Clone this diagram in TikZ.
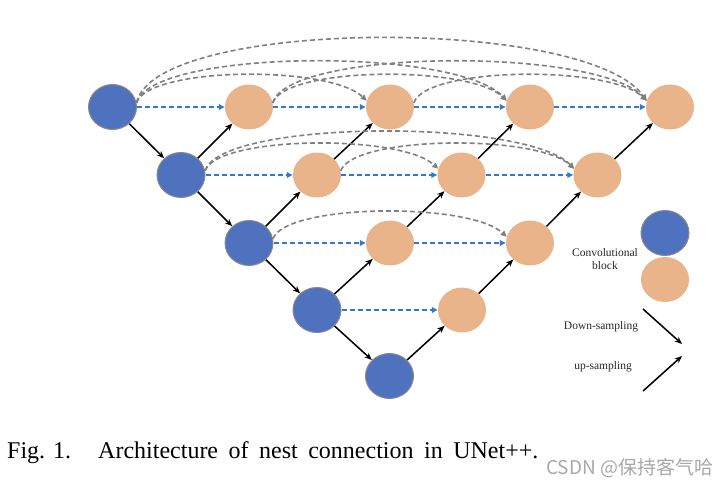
\documentclass[tikz,border=0pt]{standalone}
\usepackage{fontspec}
\setmainfont{Liberation Serif}
\newfontfamily\cjk{Noto Sans CJK SC}
\usetikzlibrary{arrows.meta,shapes.geometric}
\definecolor{encblue}{HTML}{4F72BE}
\definecolor{ringgray}{HTML}{8A8A8A}
\definecolor{decorange}{HTML}{E9B489}
\definecolor{skipblue}{HTML}{3478CC}
\definecolor{arcgray}{HTML}{808080}
\definecolor{markgray}{HTML}{A8A8A8}
\begin{document}
\begin{tikzpicture}[x=1pt,y=-1pt,
  enc/.style={ellipse,fill=encblue,draw=ringgray,line width=1pt,minimum width=48pt,minimum height=45pt,inner sep=0pt},
  dec/.style={ellipse,fill=decorange,minimum width=48pt,minimum height=45pt,inner sep=0pt},
  samp/.style={black,line width=1.5pt,-{Stealth[length=7.5pt,width=6pt]}},
  flatskip/.style={skipblue,line width=1.9pt,dash pattern=on 5pt off 3pt,-{Triangle[length=6pt,width=5.5pt]}},
  arcskip/.style={arcgray,line width=1.6pt,dash pattern=on 5pt off 3pt,-{Triangle[length=6pt,width=5.5pt]}},
  legtext/.style={font=\fontsize{11.5}{13.5}\selectfont,text=black!85,align=center,inner sep=0pt}
]
\useasboundingbox (0,0) rectangle (728,488);

% nodes
\node[enc] (X00) at (112.5,107) {};
\node[dec] (X01) at (249,107) {};
\node[dec] (X02) at (390,107) {};
\node[dec] (X03) at (530,107) {};
\node[dec] (X04) at (670,107) {};
\node[enc] (X10) at (181,175) {};
\node[dec] (X11) at (317,175) {};
\node[dec] (X12) at (461.5,175) {};
\node[dec] (X13) at (597.5,175) {};
\node[enc] (X20) at (249,243) {};
\node[dec] (X21) at (390,243) {};
\node[dec] (X22) at (530,243) {};
\node[enc] (X30) at (317,310) {};
\node[dec] (X31) at (462,310) {};
\node[enc] (X40) at (389.5,376) {};

% down-sampling
\draw[samp] (X00) -- (X10);
\draw[samp] (X10) -- (X20);
\draw[samp] (X20) -- (X30);
\draw[samp] (X30) -- (X40);
% up-sampling
\draw[samp] (X10) -- (X01);
\draw[samp] (X20) -- (X11);
\draw[samp] (X11) -- (X02);
\draw[samp] (X30) -- (X21);
\draw[samp] (X21) -- (X12);
\draw[samp] (X12) -- (X03);
\draw[samp] (X40) -- (X31);
\draw[samp] (X31) -- (X22);
\draw[samp] (X22) -- (X13);
\draw[samp] (X13) -- (X04);

% straight skip connections
\draw[flatskip] (X00) -- (X01);
\draw[flatskip] (X01) -- (X02);
\draw[flatskip] (X02) -- (X03);
\draw[flatskip] (X03) -- (X04);
\draw[flatskip] (X10) -- (X11);
\draw[flatskip] (X11) -- (X12);
\draw[flatskip] (X12) -- (X13);
\draw[flatskip] (X20) -- (X21);
\draw[flatskip] (X21) -- (X22);
\draw[flatskip] (X30) -- (X31);

% dense skip arcs, row 0
\draw[arcskip] (X00.10) .. controls +(12,-36) and +(-38,-36) .. (X02.165);
\draw[arcskip] (X00.10) .. controls +(15,-54) and +(-50,-54) .. (X03.165);
\draw[arcskip] (X00.10) .. controls +(18,-85) and +(-60,-85) .. (X04.165);
\draw[arcskip] (X01.10) .. controls +(12,-36) and +(-38,-36) .. (X03.165);
\draw[arcskip] (X01.10) .. controls +(15,-54) and +(-50,-54) .. (X04.165);
\draw[arcskip] (X02.10) .. controls +(12,-36) and +(-38,-36) .. (X04.165);
% row 1
\draw[arcskip] (X10.10) .. controls +(12,-35) and +(-38,-35) .. (X12.165);
\draw[arcskip] (X10.10) .. controls +(15,-51) and +(-50,-51) .. (X13.165);
\draw[arcskip] (X11.10) .. controls +(12,-35) and +(-38,-35) .. (X13.165);
% row 2
\draw[arcskip] (X20.10) .. controls +(12,-35) and +(-38,-35) .. (X22.165);

% legend
\node[enc] (legEnc) at (665,233) {};
\node[dec] (legDec) at (665,279.5) {};
\node[legtext] (legConv) at (605,259) {Convolutional\\block};
\node[legtext] (legDown) at (601,327) {Down-sampling};
\node[legtext] (legUp) at (603,367) {up-sampling};
\coordinate (dA) at (643,309);
\coordinate (dB) at (682,344);
\coordinate (uA) at (643,391);
\coordinate (uB) at (682,356);
\draw[samp] (dA) -- (dB);
\draw[samp] (uA) -- (uB);

% caption
\node[anchor=base west,inner sep=0pt,font=\fontsize{24}{28}\selectfont] (figno) at (7,458) {Fig. 1.};
\node[anchor=base west,inner sep=0pt,font=\fontsize{24}{28}\selectfont] (caption) at (98,458) {\spaceskip=10.5pt Architecture of nest connection in UNet++.};
\node[anchor=west,inner sep=0pt,font=\cjk\fontsize{19}{21}\selectfont,text=markgray] (mark) at (546,468) {CSDN @保持客气哈};
\end{tikzpicture}
\end{document}
